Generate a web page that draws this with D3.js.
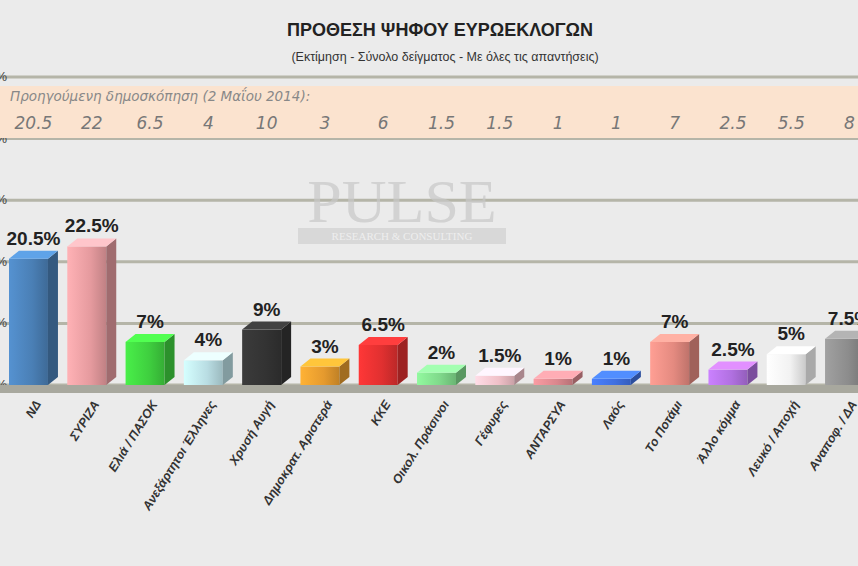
<!DOCTYPE html>
<html><head><meta charset="utf-8">
<script src="https://cdn.jsdelivr.net/npm/d3@7"></script>
<style>body{margin:0;background:#ebebeb}svg{display:block}</style>
</head><body>
<svg width="858" height="566"></svg>
<script>
var parties = ["ΝΔ","ΣΥΡΙΖΑ","Ελιά / ΠΑΣΟΚ","Ανεξάρτητοι Έλληνες","Χρυσή Αυγή","Δημοκρατ. Αριστερά","ΚΚΕ","Οικολ. Πράσινοι","Γέφυρες","ΑΝΤΑΡΣΥΑ","Λαός","Το Ποτάμι","Άλλο κόμμα","Λευκό / Αποχή","Αναποφ. / ΔΑ"];
var current = [20.5,22.5,7,4,9,3,6.5,2,1.5,1,1,7,2.5,5,7.5];
var previous = ["20.5","22","6.5","4","10","3","6","1.5","1.5","1","1","7","2.5","5.5","8"];
var colors = ["#4a7fb5","#e59a9e","#3fcf3f","#b9dde3","#333333","#e59a2e","#e03030","#7fd88a","#f0c0c8","#d9878d","#3f6fe0","#e48a80","#b070e0","#f2f2f2","#8c8c8c"];
var ticks = [0,10,20,30,40,50];

var svg = d3.select("svg");
var defs = svg.append("defs");

var x = d3.scaleBand().domain(parties).range([9, 874]).paddingInner(0.16).paddingOuter(0);
var y = d3.scaleLinear().domain([0, 50]).range([385, 77]);
var depth = 10;

svg.append("text").attr("x", 440).attr("y", 36).attr("text-anchor", "middle")
  .attr("font-family", "Liberation Sans, Arial").attr("font-weight", "bold").attr("font-size", 18)
  .attr("fill", "#222").text("ΠΡΟΘΕΣΗ ΨΗΦΟΥ ΕΥΡΩΕΚΛΟΓΩΝ");
svg.append("text").attr("x", 445).attr("y", 61).attr("text-anchor", "middle")
  .attr("font-family", "Liberation Sans, Arial").attr("font-size", 12.5)
  .attr("fill", "#333").text("(Εκτίμηση - Σύνολο δείγματος - Με όλες τις απαντήσεις)");

// gridlines
svg.append("g").selectAll("line").data(ticks).enter().append("line")
  .attr("x1", 0).attr("x2", 858).attr("y1", d => y(d)).attr("y2", d => y(d))
  .attr("stroke", "#b5b5a8").attr("stroke-width", 3);
svg.append("g").selectAll("text").data(ticks).enter().append("text")
  .attr("x", 7).attr("y", d => y(d) + 4).attr("text-anchor", "end")
  .attr("font-family", "Liberation Sans, Arial").attr("font-size", 13).attr("fill", "#444")
  .text(d => d + "%");

// floor
svg.append("rect").attr("x", 0).attr("y", y(0)).attr("width", 858).attr("height", 8).attr("fill", "#a8a89e");

// previous poll band
svg.append("rect").attr("x", 0).attr("y", 86).attr("width", 858).attr("height", 52).attr("fill", "#fbe3cf");
svg.append("text").attr("x", 10).attr("y", 101)
  .attr("font-family", "DejaVu Sans, sans-serif").attr("font-style", "italic").attr("font-size", 13.5)
  .attr("fill", "#888").text("Προηγούμενη δημοσκόπηση  (2 Μαΐου 2014):");
svg.append("g").selectAll("text").data(previous).enter().append("text")
  .attr("x", (d, i) => x(parties[i]) + x.bandwidth() / 2)
  .attr("y", 129).attr("text-anchor", "middle")
  .attr("font-family", "DejaVu Sans, sans-serif").attr("font-style", "italic").attr("font-size", 17)
  .attr("fill", "#777").text(d => d);

// watermark
svg.append("text").attr("x", 402).attr("y", 222).attr("text-anchor", "middle")
  .attr("font-family", "Liberation Serif, serif").attr("font-size", 62).attr("fill", "#c8c8c8")
  .attr("opacity", 0.7).text("PULSE");
svg.append("rect").attr("x", 298).attr("y", 228).attr("width", 208).attr("height", 16).attr("fill", "#d0d0d0").attr("opacity", 0.7);
svg.append("text").attr("x", 402).attr("y", 240).attr("text-anchor", "middle")
  .attr("font-family", "Liberation Serif, serif").attr("font-size", 11).attr("fill", "#eee")
  .text("RESEARCH & CONSULTING");

// gradients
colors.forEach(function(c, i) {
  var g = defs.append("linearGradient").attr("id", "g" + i);
  g.append("stop").attr("offset", "0%").attr("stop-color", d3.color(c).brighter(0.4));
  g.append("stop").attr("offset", "60%").attr("stop-color", c);
  g.append("stop").attr("offset", "100%").attr("stop-color", d3.color(c).darker(0.5));
});

var bars = svg.append("g").selectAll("g").data(current).enter().append("g");
var w = x.bandwidth() - depth;
bars.append("rect")
  .attr("x", (d, i) => x(parties[i])).attr("y", d => y(d))
  .attr("width", w).attr("height", d => y(0) - y(d))
  .attr("fill", (d, i) => "url(#g" + i + ")");
bars.append("path")
  .attr("d", function(d, i) {
    var x0 = x(parties[i]) + w, t = y(d), b = y(0);
    return "M" + x0 + "," + t + "L" + (x0 + depth) + "," + (t - depth * 0.8) + "L" + (x0 + depth) + "," + (b - depth * 0.8) + "L" + x0 + "," + b + "Z";
  })
  .attr("fill", (d, i) => d3.color(colors[i]).darker(1));
bars.append("path")
  .attr("d", function(d, i) {
    var x0 = x(parties[i]), t = y(d);
    return "M" + x0 + "," + t + "L" + (x0 + depth) + "," + (t - depth * 0.8) + "L" + (x0 + w + depth) + "," + (t - depth * 0.8) + "L" + (x0 + w) + "," + t + "Z";
  })
  .attr("fill", (d, i) => d3.color(colors[i]).brighter(0.7));
bars.append("text")
  .attr("x", (d, i) => x(parties[i]) + x.bandwidth() / 2)
  .attr("y", d => y(d) - depth - 4).attr("text-anchor", "middle")
  .attr("font-family", "Liberation Sans, Arial").attr("font-weight", "bold").attr("font-size", 19)
  .attr("fill", "#222").text(d => d + "%");

// category labels
svg.append("g").selectAll("text").data(parties).enter().append("text")
  .attr("transform", d => "translate(" + (x(d) + x.bandwidth() / 2 + 8) + ",404) rotate(-58)")
  .attr("text-anchor", "end")
  .attr("font-family", "Liberation Sans, Arial").attr("font-style", "italic").attr("font-weight", "bold")
  .attr("font-size", 12.5).attr("fill", "#333").text(d => d);
</script>
</body></html>
